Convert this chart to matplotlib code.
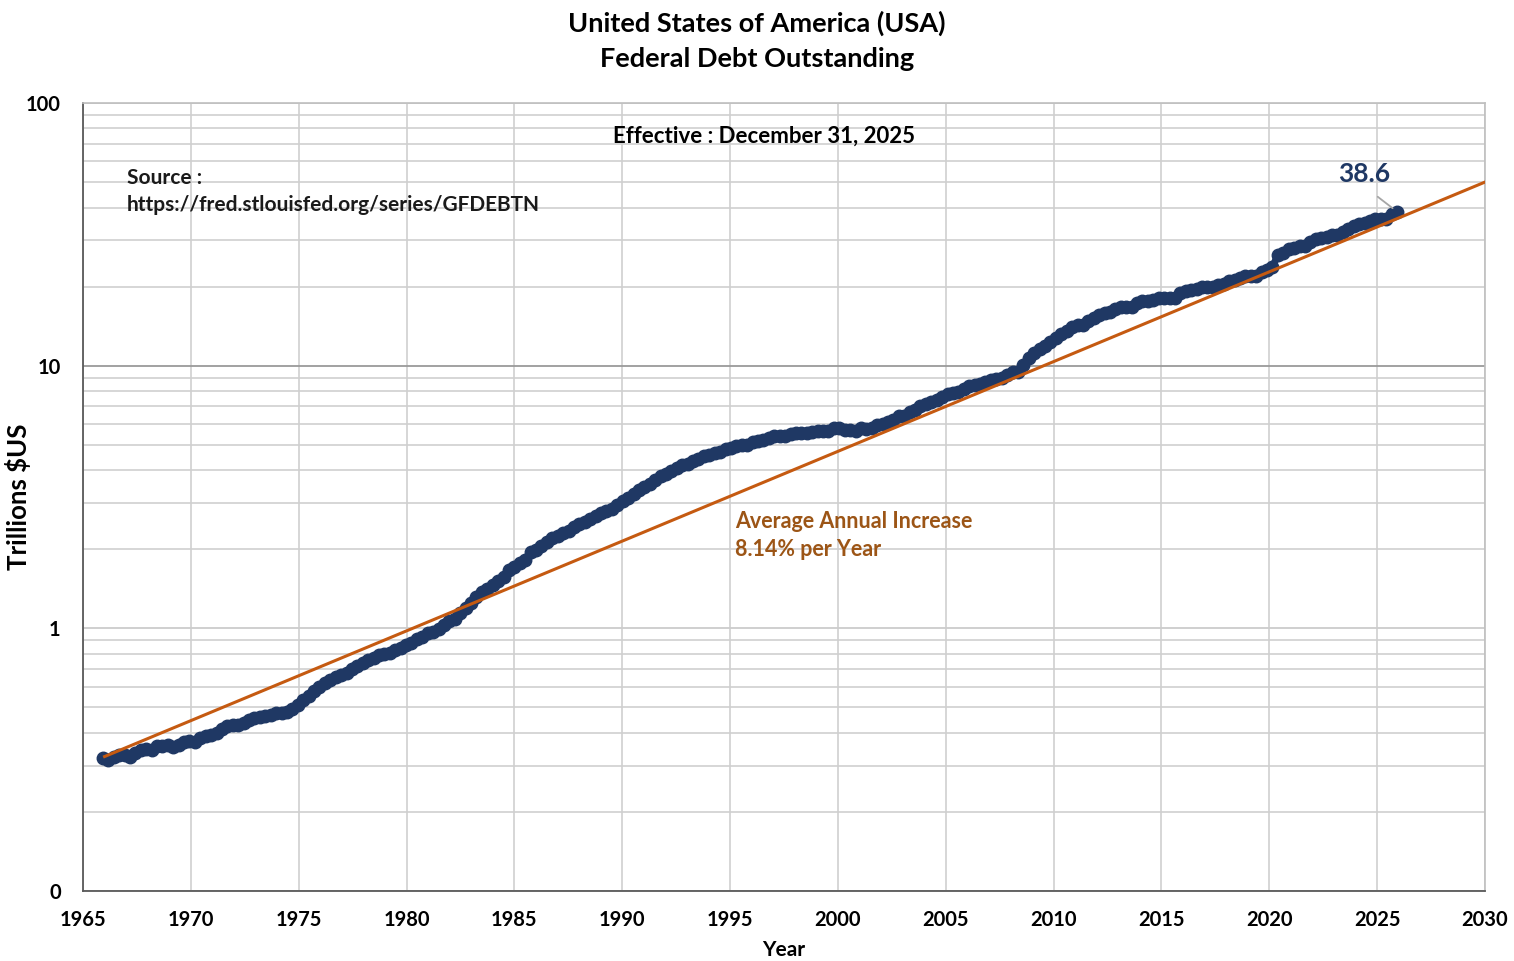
import numpy as np
import matplotlib
matplotlib.use("Agg")
import matplotlib.pyplot as plt
from matplotlib.ticker import FixedLocator, NullFormatter

# ---------------- data (trillions $US, quarterly) ----------------
debt = [
    0.321, 0.316, 0.324, 0.329,  0.330, 0.323, 0.335, 0.344,  0.348, 0.345, 0.355, 0.358,
    0.360, 0.353, 0.361, 0.368,  0.372, 0.370, 0.381, 0.389,  0.391, 0.398, 0.415, 0.425,
    0.428, 0.427, 0.436, 0.449,  0.457, 0.458, 0.464, 0.469,  0.474, 0.475, 0.481, 0.492,
    0.509, 0.533, 0.554, 0.576,  0.599, 0.620, 0.635, 0.653,  0.665, 0.674, 0.698, 0.718,
    0.739, 0.760, 0.771, 0.789,  0.796, 0.805, 0.827, 0.845,  0.863, 0.881, 0.908, 0.930,
    0.964, 0.971, 0.998, 1.028,  1.062, 1.085, 1.142, 1.197,  1.245, 1.319, 1.377, 1.411,
    1.464, 1.518, 1.573, 1.663,  1.710, 1.775, 1.823, 1.945,  1.986, 2.060, 2.125, 2.214,
    2.247, 2.309, 2.350, 2.432,  2.493, 2.548, 2.602, 2.684,  2.740, 2.799, 2.857, 2.953,
    3.052, 3.143, 3.233, 3.365,  3.465, 3.538, 3.665, 3.801,  3.881, 3.985, 4.065, 4.177,
    4.230, 4.352, 4.411, 4.536,  4.575, 4.646, 4.693, 4.800,  4.864, 4.951, 4.974, 4.989,
    5.117, 5.161, 5.224, 5.323,  5.380, 5.376, 5.413, 5.502,  5.542, 5.548, 5.526, 5.614,
    5.651, 5.638, 5.656, 5.776,  5.773, 5.686, 5.674, 5.662,  5.774, 5.727, 5.807, 5.943,
    6.006, 6.126, 6.228, 6.406,  6.460, 6.670, 6.783, 7.001,  7.131, 7.274, 7.379, 7.596,
    7.777, 7.836, 7.933, 8.170,  8.371, 8.420, 8.507, 8.680,  8.849, 8.867, 9.008, 9.229,
    9.437, 9.492, 10.025, 10.700, 11.127, 11.545, 11.910, 12.311, 12.773, 13.202, 13.562, 14.025,
    14.270, 14.343, 14.790, 15.223, 15.582, 15.856, 16.066, 16.433, 16.771, 16.738, 16.738, 17.352,
    17.601, 17.632, 17.824, 18.141, 18.152, 18.152, 18.151, 18.922, 19.264, 19.381, 19.573, 19.977,
    19.846, 19.845, 20.245, 20.493, 21.090, 21.195, 21.516, 21.974, 22.028, 22.023, 22.719, 23.201,
    23.687, 26.477, 26.946, 27.748, 28.133, 28.529, 28.429, 29.617, 30.401, 30.569, 30.929, 31.420,
    31.458, 32.332, 33.167, 34.001, 34.587, 34.832, 35.465, 36.218, 36.215, 36.214, 37.638, 38.600,
]
first_date = 1965.92
last_date = 2025.92
dates = np.linspace(first_date, last_date, len(debt))

trend_years = [1966.0, 2030.0]
trend_values = [0.325, 50.0]

x_ticks = [1965, 1970, 1975, 1980, 1985, 1990, 1995, 2000, 2005, 2010, 2015, 2020, 2025, 2030]
y_major = [0.1, 1, 10, 100]
y_major_labels = ["0", "1", "10", "100"]

title_lines = ["United States of America (USA)", "Federal Debt Outstanding"]
last_label = "38.6"

# ---------------- style ----------------
plt.rcParams['font.family'] = ['Lato', 'DejaVu Sans']
navy = "#1F3864"
orange = "#C55A11"
brown = "#9C5516"

fig = plt.figure(figsize=(15.14, 9.61), dpi=100)
ax = fig.add_axes([83 / 1514, 1 - 891 / 961, (1485 - 83) / 1514, (891 - 103) / 961])

ax.set_yscale("log")
ax.set_xlim(1965, 2030)
ax.set_ylim(0.1, 100)

# grid
minor_vals = [m * 10.0 ** e for e in (-1, 0, 1) for m in range(2, 10)]
ax.yaxis.set_major_locator(FixedLocator(y_major))
ax.yaxis.set_minor_locator(FixedLocator(minor_vals))
ax.yaxis.set_minor_formatter(NullFormatter())
ax.set_yticklabels(y_major_labels)
ax.set_xticks(x_ticks)
ax.grid(True, which="major", axis="y", color="#CCCCCC", lw=1.3)
ax.grid(True, which="minor", axis="y", color="#CFCFCF", lw=1.2)
ax.grid(True, which="major", axis="x", color="#CFCFCF", lw=1.2)
# the 10-trillion gridline is drawn darker in the reference
for val, gl in zip(y_major, ax.yaxis.get_gridlines()):
    if val == 10:
        gl.set_color("#9A9A9A")
ax.set_axisbelow(True)
ax.tick_params(which="both", length=0)
ax.tick_params(axis="x", pad=14, labelsize=14.5)
ax.tick_params(axis="y", pad=16, labelsize=14.5)
for lab in ax.get_xticklabels() + ax.get_yticklabels():
    lab.set_fontweight("bold")

for s in ("left", "bottom"):
    ax.spines[s].set_color("#595959")
    ax.spines[s].set_linewidth(1.3)
for s in ("top", "right"):
    ax.spines[s].set_color("#BFBFBF")
    ax.spines[s].set_linewidth(1.2)

# data
ax.plot(dates, debt, color=navy, lw=5, marker="o", ms=9, mec=navy, mfc=navy, zorder=3)
ax.plot(trend_years, trend_values, color=orange, lw=2.2, zorder=4)

# labels
ax.set_xlabel("Year", fontsize=15, fontweight="bold", va="center")
ax.xaxis.set_label_coords(0.5, -(950 - 891) / 788)
ax.set_ylabel("Trillions $US", fontsize=18.5, fontweight="bold", va="center")
ax.yaxis.set_label_coords(-(83 - 18) / 1402, 0.5)

fig.text(0.5, 1 - 23 / 961, title_lines[0], ha="center", va="center", fontsize=19.5, fontweight="bold")
fig.text(0.5, 1 - 59 / 961, title_lines[1], ha="center", va="center", fontsize=19.5, fontweight="bold")

ax.text(0.4855, 0.9575, "Effective : December 31, 2025", transform=ax.transAxes,
        ha="center", va="center", fontsize=16, fontweight="bold")
ax.text(0.0315, 0.8880, "Source :\nhttps://fred.stlouisfed.org/series/GFDEBTN", transform=ax.transAxes,
        ha="left", va="center", fontsize=15, fontweight="bold", linespacing=1.45, color="#1a1a1a")
ax.text(1995.23, 2.25, "Average Annual Increase\n8.14% per Year", ha="left", va="center",
        fontsize=15.5, fontweight="bold", color=brown, linespacing=1.4)

ax.annotate(last_label, xy=(dates[-1], debt[-1]), xytext=(2024.4, 53.5),
            ha="center", va="center", fontsize=19, fontweight="bold", color=navy,
            arrowprops=dict(arrowstyle="-", color="#A6A6A6", lw=1.3, shrinkA=9, shrinkB=4,
                            relpos=(0.5, 0.0)),
            zorder=5)

fig.savefig("out.png", dpi=100)
